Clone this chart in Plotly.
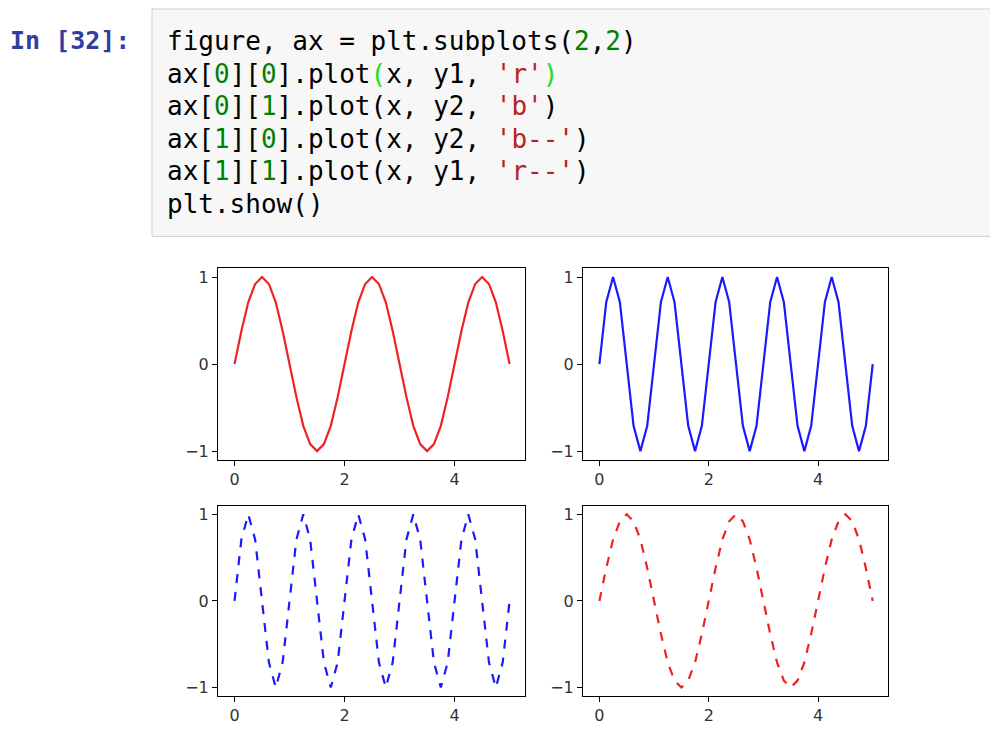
import plotly.graph_objects as go

x = [i * 0.125 for i in range(41)]
y1_cycle = [0, .38, .71, .92, 1, .92, .71, .38, 0, -.38, -.71, -.92, -1, -.92, -.71, -.38]
y2_cycle = [0, .71, 1, .71, 0, -.71, -1, -.71]
y1 = (y1_cycle * 3)[:41]
y2 = (y2_cycle * 6)[:41]

W, H = 998, 756
OX, OY = 8, 8  # page body offset compensation
fig = go.Figure()

panels = [
    (1, y1, "#ee2222", "solid", (218, 525), (268, 460)),
    (2, y2, "#1a1aff", "solid", (583, 888), (268, 460)),
    (3, y2, "#1a1aff", "dash", (218, 525), (506, 697)),
    (4, y1, "#ee2222", "dash", (583, 888), (506, 697)),
]
for n, yy, col, dash, (xl, xr), (yt, yb) in panels:
    sfx = "" if n == 1 else str(n)
    fig.add_trace(go.Scatter(x=x, y=yy, mode="lines", line=dict(color=col, width=2.2, dash=dash),
                             xaxis="x" + sfx, yaxis="y" + sfx, showlegend=False))
    common = dict(showgrid=False, zeroline=False, showline=True, mirror=True, linecolor="black",
                  linewidth=1, ticks="outside", ticklen=5, tickcolor="black",
                  tickfont=dict(family="DejaVu Sans", size=16, color="#333"))
    fig.layout["xaxis" + sfx] = dict(domain=[(xl - OX) / W, (xr - OX) / W], range=[-0.3, 5.28],
                                      anchor="y" + sfx, tickvals=[0, 2, 4], ticktext=["0", "2", "4"], **common)
    fig.layout["yaxis" + sfx] = dict(domain=[1 - (yb - OY) / H, 1 - (yt - OY) / H], range=[-1.1, 1.1],
                                      anchor="x" + sfx, tickvals=[-1, 0, 1], ticktext=["−1", "0", "1"], **common)

fig.add_shape(type="rect", xref="paper", yref="paper", x0=(152 - OX) / W, x1=1.0, y0=1 - (236 - OY) / H, y1=1.0,
              fillcolor="#f7f7f7", line=dict(color="#cfcfcf", width=1), layer="below")

G = "#008000"; R = "#BA2121"; BG = "#22dd22"
def c(t, col): return f"<span style='color:{col}'>{t}</span>"
lines = [
    "figure, ax = plt.subplots(" + c("2", G) + "," + c("2", G) + ")",
    "ax[" + c("0", G) + "][" + c("0", G) + "].plot" + c("(", BG) + "x, y1, " + c("'r'", R) + c(")", BG),
    "ax[" + c("0", G) + "][" + c("1", G) + "].plot(x, y2, " + c("'b'", R) + ")",
    "ax[" + c("1", G) + "][" + c("0", G) + "].plot(x, y2, " + c("'b--'", R) + ")",
    "ax[" + c("1", G) + "][" + c("1", G) + "].plot(x, y1, " + c("'r--'", R) + ")",
    "plt.show()",
]
for i, t in enumerate(lines):
    fig.add_annotation(text=t, xref="paper", yref="paper", x=(165 - OX) / W, y=1 - (40 + 32.7 * i - OY) / H,
                       xanchor="left", yanchor="middle", showarrow=False,
                       font=dict(family="DejaVu Sans Mono", size=26, color="black"))
fig.add_annotation(text="<b>In [32]:</b>", xref="paper", yref="paper", x=0, y=1 - (40 - OY) / H,
                   xanchor="left", yanchor="middle", showarrow=False,
                   font=dict(family="DejaVu Sans Mono", size=25, color="#303F9F"))

fig.update_layout(width=W, height=H, margin=dict(l=0, r=0, t=0, b=0),
                  paper_bgcolor="white", plot_bgcolor="white")
fig.write_html("out.html")
